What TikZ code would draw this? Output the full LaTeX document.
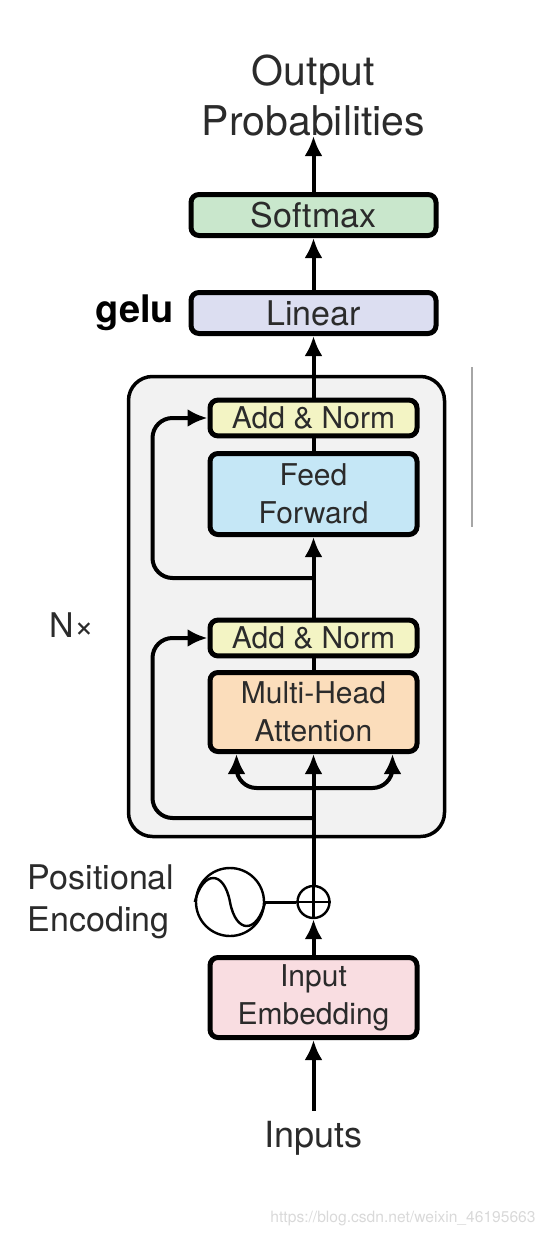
\documentclass[tikz,border=0pt]{standalone}
\usepackage{fontspec}
\setmainfont{TeX Gyre Heros}
\usepackage{xcolor}
\usepackage{tikz}
\usetikzlibrary{arrows.meta,positioning}
\definecolor{txt}{HTML}{2B2B2B}
\definecolor{softc}{HTML}{C9E7CC}
\definecolor{linc}{HTML}{DCDEF1}
\definecolor{normc}{HTML}{F3F4C4}
\definecolor{ffc}{HTML}{C5E7F6}
\definecolor{mhac}{HTML}{FBDDBB}
\definecolor{embc}{HTML}{F9DDE1}
\definecolor{encc}{HTML}{F2F2F2}
\begin{document}
\begin{tikzpicture}[x=0.5pt, y=-0.5pt, >={Latex[length=10pt,width=9pt]},
  box/.style={draw,line width=2.5pt,rounded corners=4pt,align=center,text=txt,minimum width=103.5pt,font=\fontsize{15}{19}\selectfont},
  bigbox/.style={box,minimum width=122.5pt,minimum height=20.5pt,font=\fontsize{17}{20}\selectfont},
  lbl/.style={text=txt,inner sep=0pt},
  wire/.style={line width=2pt}]
\useasboundingbox (0,0) rectangle (548,1236);
% encoder stack
\node[draw,line width=1.75pt,rounded corners=12pt,fill=encc,minimum width=158pt,minimum height=230pt] (enc) at (286.5,606.5) {};
\node[box,fill=normc,minimum height=17.5pt] (an2) at (313.5,418) {Add \& Norm};
\node[box,fill=ffc,minimum height=40.5pt] (ff) at (313.5,494) {Feed\\Forward};
\node[box,fill=normc,minimum height=17.5pt] (an1) at (313.5,638) {Add \& Norm};
\node[box,fill=mhac,minimum height=39.5pt] (mha) at (313.5,712) {Multi-Head\\Attention};
\node[lbl,font=\fontsize{17}{20}\selectfont] (nx) at (72,625) {N×};
% head
\node[bigbox,fill=linc] (lin) at (313.5,313) {Linear};
\node[bigbox,fill=softc] (soft) at (313.5,215) {Softmax};
\node[lbl,align=center,font=\fontsize{20.5}{25}\selectfont] (out) at (313.5,95) {Output\\Probabilities};
\node[lbl,left=7pt of lin,font=\fontsize{19}{20}\selectfont\bfseries,text=black] (gelu) {gelu};
% input side
\node[box,fill=embc,minimum height=40pt] (emb) at (313.5,997.5) {Input\\Embedding};
\node[draw,circle,line width=1.2pt,minimum size=16pt,inner sep=0pt] (plus) at (313.5,902) {};
\node[draw,circle,line width=1.2pt,minimum size=34pt,inner sep=0pt] (pe) at (230,902) {};
\node[lbl,align=left,font=\fontsize{17}{21}\selectfont,left=10pt of pe] (pelbl) {Positional\\Encoding};
\node[lbl,font=\fontsize{18}{20}\selectfont] (inp) at (313.5,1138) {Inputs};
\node[inner sep=0pt,text=gray!30,font=\fontsize{7.8}{10}\selectfont] (wm) at (403,1218) {https://blog.csdn.net/weixin\_46195663};
% plus and wave
\draw[line width=1.2pt] (plus.north) -- (plus.south) (plus.west) -- (plus.east);
\draw[line width=1.2pt] (pe.west) .. controls (203,870) and (224,870) .. (pe.center) .. controls (236,934) and (257,934) .. (pe.east);
% connectors
\draw[wire,->] (soft) -- (out);
\draw[wire,->] (lin) -- (soft);
\draw[wire,->] (an2) -- (lin);
\draw[wire] (ff) -- (an2);
\draw[wire,->] (an1) -- (ff);
\draw[wire] (mha) -- (an1);
\draw[wire,->] (plus) -- (mha);
\coordinate (br2) at (313.5,578);
\coordinate (br1) at (313.5,818);
\coordinate (fork) at (313.5,788);
\draw[wire,->,rounded corners=10pt] (br2) -| ([xshift=-27.5pt]an2.west) -- (an2.west);
\draw[wire,->,rounded corners=10pt] (br1) -| ([xshift=-27.5pt]an1.west) -- (an1.west);
\draw[wire,->,rounded corners=10pt] (fork) -| ([xshift=-38.5pt]mha.south);
\draw[wire,->,rounded corners=10pt] (fork) -| ([xshift=39.5pt]mha.south);
\draw[line width=1.5pt] (pe) -- (plus);
\draw[wire,->] (emb) -- (plus);
\draw[wire,->,shorten <=5pt] (inp) -- (emb);
\draw[gray!70,line width=1pt] (472,367) -- (472,527);
\end{tikzpicture}
\end{document}
